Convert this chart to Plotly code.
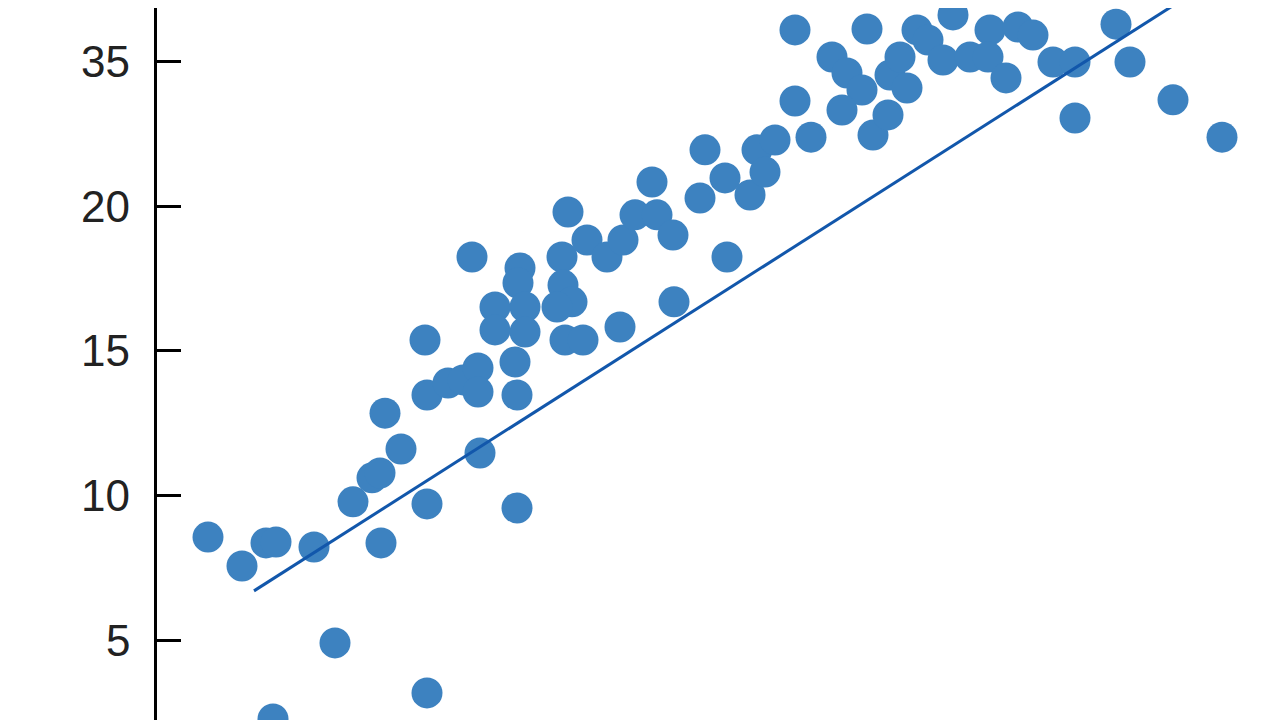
import plotly.graph_objects as go

# scatter points (x in arbitrary units, y on the displayed value scale)
pts_x = [
    5.1, 8.5, 10.9, 11.9, 15.7, 17.8, 11.6, 27.0, 27.0, 36.0,
    22.4, 19.6, 21.5, 22.3, 24.4, 22.8, 32.3, 26.8, 27.0, 29.1,
    30.6, 32.1, 32.1, 35.8, 36.0, 31.5, 36.3, 36.1, 33.8, 36.8,
    33.8, 36.8, 40.5, 40.6, 41.5, 40.0, 40.8, 42.6, 46.3, 41.1,
    43.0, 45.0, 46.6, 47.8, 50.0, 49.5, 51.6, 51.7, 57.0, 54.3,
    54.8, 56.8, 59.3, 60.0, 60.8, 61.8, 63.8, 65.4, 63.8, 67.5,
    69.0, 70.5, 68.5, 71.6, 73.1, 71.0, 73.3, 75.0, 74.3, 76.0,
    77.1, 78.6, 79.6, 81.3, 83.3, 83.1, 84.9, 86.1, 87.6, 89.6,
    91.8, 91.8, 95.9, 97.3, 101.6, 106.5,
]
pts_y = [
    8.56, 7.56, 8.36, 8.39, 8.22, 4.90, 2.27, 3.17, 9.71, 9.57,
    8.36, 9.78, 10.61, 10.78, 11.61, 12.85, 11.47, 15.38, 13.48, 13.89,
    14.00, 14.41, 13.58, 14.62, 13.48, 18.25, 17.87, 17.35, 16.52, 16.52,
    15.73, 15.66, 18.25, 17.28, 16.70, 16.52, 15.38, 15.38, 15.83, 19.81,
    18.84, 18.25, 18.84, 19.71, 19.71, 20.85, 19.01, 16.70, 18.25, 20.29,
    21.96, 20.99, 20.40, 21.96, 21.19, 22.30, 23.65, 22.40, 26.11, 25.17,
    24.62, 24.03, 23.34, 22.47, 23.17, 26.14, 24.55, 24.10, 25.17, 26.11,
    25.76, 25.07, 26.63, 25.17, 26.11, 25.17, 24.45, 26.21, 25.93, 25.00,
    25.00, 23.06, 26.31, 25.00, 23.69, 22.40,
]

# fitted trend line end points
fit_x = [9.7, 106.0]
fit_y = [6.70, 27.92]

# y ticks as printed on the chart
tick_vals = [5, 10, 15, 20, 25]
tick_text = ["5", "10", "15", "20", "35"]

fig = go.Figure()

fig.add_trace(
    go.Scatter(
        x=pts_x,
        y=pts_y,
        mode="markers",
        marker={"size": 31, "color": "#3d82c0", "line": {"width": 0}},
        hoverinfo="skip",
        showlegend=False,
    )
)

fig.add_trace(
    go.Scatter(
        x=fit_x,
        y=fit_y,
        mode="lines",
        line={"color": "#1257ab", "width": 3},
        hoverinfo="skip",
        showlegend=False,
    )
)

# tick labels sit well clear of the inward ticks, so place them as annotations
for val, label in zip(tick_vals, tick_text):
    fig.add_annotation(
        x=0,
        xref="paper",
        y=val,
        yref="y",
        text=label,
        showarrow=False,
        xanchor="right",
        yanchor="middle",
        xshift=-25,
        font={"family": "Liberation Sans", "size": 44, "color": "#222222"},
    )

# the page body adds an 8px margin, so the figure is sized to fit inside it
fig.update_layout(
    width=1272,
    height=712,
    paper_bgcolor="white",
    plot_bgcolor="white",
    margin={"l": 149, "r": 0, "t": 0, "b": 0},
    xaxis={"range": [0, 112.3], "visible": False},
    yaxis={
        "range": [2.232, 26.868],
        "showgrid": False,
        "zeroline": False,
        "showline": True,
        "linecolor": "black",
        "linewidth": 3,
        "ticks": "inside",
        "ticklen": 24,
        "tickwidth": 3,
        "tickcolor": "black",
        "tickvals": tick_vals,
        "showticklabels": False,
    },
)

fig.write_html("out.html")
